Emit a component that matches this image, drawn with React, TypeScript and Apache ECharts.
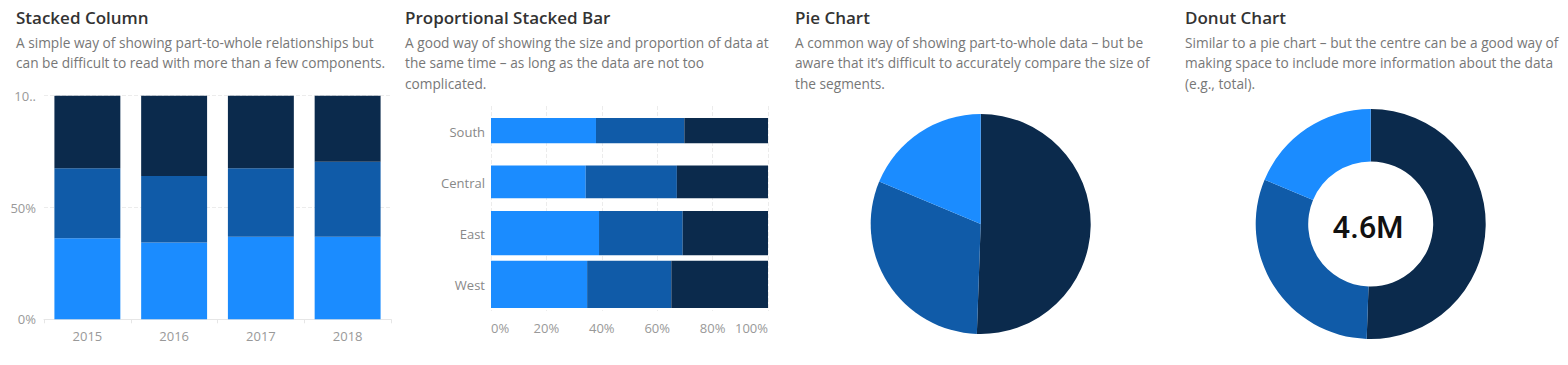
import React, { useEffect, useRef } from "react";
import * as echarts from "echarts";

// ---- Data ----
const years = ["2015", "2016", "2017", "2018"];
const segments = ["Consumer", "Corporate", "Home Office"];
// share (%) by year, bottom to top
const colLight = [36.2, 34.4, 36.9, 36.9];
const colMedium = [31.3, 29.7, 30.6, 33.6];
const colDark = [32.5, 35.9, 32.5, 29.5];
const colTickLabels: Record<number, string> = { 0: "0%", 50: "50%", 100: "10.." };

const regions = ["South", "Central", "East", "West"];
const regionSales = [391722, 501240, 678781, 725458];
const barLight = [37.9, 34.2, 39.0, 34.7];
const barMedium = [31.9, 32.9, 30.2, 30.4];
const barDark = [30.2, 32.9, 30.8, 34.9];

const pieValues = [1161401, 706146, 429653]; // dark, medium, light
const donutTotalLabel = "4.6M";

const titles = [
  {
    text: "Stacked Column",
    sub: "A simple way of showing part-to-whole relationships but\ncan be difficult to read with more than a few components.",
  },
  {
    text: "Proportional Stacked Bar",
    sub: "A good way of showing the size and proportion of data at\nthe same time \u2013 as long as the data are not too\ncomplicated.",
  },
  {
    text: "Pie Chart",
    sub: "A common way of showing part-to-whole data \u2013 but be\naware that it\u2019s difficult to accurately compare the size of\nthe segments.",
  },
  {
    text: "Donut Chart",
    sub: "Similar to a pie chart \u2013 but the centre can be a good way of\nmaking space to include more information about the data\n(e.g., total).",
  },
];

const LIGHT = "#1b8cff";
const MEDIUM = "#105ba8";
const DARK = "#0b2a4c";
const FONT = "'Open Sans', 'Noto Sans', sans-serif";

export default function App() {
  const ref = useRef<HTMLDivElement>(null);
  useEffect(() => {
    if (!ref.current) return;
    const chart = echarts.init(ref.current, undefined, { renderer: "svg" });
    const maxSales = Math.max(...regionSales);

    const makeBarSeries = (name: string, color: string, vals: number[], offsets: number[]) => ({
      type: "custom",
      name,
      xAxisIndex: 1,
      yAxisIndex: 1,
      data: vals.map((v, i) => [i, offsets[i], offsets[i] + v, regionSales[i]]),
      encode: { x: [1, 2], y: 0 },
      renderItem: (params: any, api: any) => {
        const cat = api.value(0);
        const start = api.coord([api.value(1), cat]);
        const end = api.coord([api.value(2), cat]);
        const band = api.size([0, 1])[1];
        const h = band * 0.92 * (api.value(3) / maxSales);
        return {
          type: "rect",
          shape: { x: start[0], y: start[1] - h / 2 - 1, width: end[0] - start[0], height: h },
          style: { fill: color },
        };
      },
    });
    const off1 = barLight.map(() => 0);
    const off2 = barLight.slice();
    const off3 = barLight.map((v, i) => v + barMedium[i]);

    const panelX = [16, 405, 795, 1185];

    chart.setOption({
      animation: false,
      textStyle: { fontFamily: FONT },
      title: titles.map((t, i) => ({
        text: t.text,
        subtext: t.sub,
        left: panelX[i],
        top: 9,
        padding: 0,
        itemGap: 6,
        textStyle: { fontFamily: FONT, fontSize: 17, fontWeight: 600, color: "#333333" },
        subtextStyle: { fontFamily: FONT, fontSize: 13.7, color: "#777777", lineHeight: 20.5 },
      })),
      grid: [
        { left: 44, top: 95.7, width: 347, height: 223.6 },
        { left: 491, top: 106, width: 277, height: 205 },
      ],
      xAxis: [
        {
          type: "category",
          gridIndex: 0,
          data: years,
          axisLine: { lineStyle: { color: "#e6e6e6" } },
          axisTick: { show: true, length: 4, lineStyle: { color: "#e6e6e6" } },
          axisLabel: { color: "#999999", fontSize: 13, margin: 10, fontFamily: FONT },
        },
        {
          type: "value",
          gridIndex: 1,
          min: 0,
          max: 100,
          interval: 20,
          axisLine: { show: false },
          axisTick: { show: false },
          axisLabel: {
            color: "#999999",
            fontSize: 13,
            margin: 10,
            fontFamily: FONT,
            formatter: "{value}%",
            alignMinLabel: "left",
            alignMaxLabel: "right",
          },
          splitLine: { show: true, lineStyle: { color: "#ececec", type: "dashed" } },
        },
      ],
      yAxis: [
        {
          type: "value",
          gridIndex: 0,
          min: 0,
          max: 100,
          interval: 50,
          axisLine: { show: false },
          axisTick: { show: false },
          axisLabel: {
            color: "#999999",
            fontSize: 13,
            margin: 8,
            fontFamily: FONT,
            formatter: (v: number) => colTickLabels[v] ?? "",
          },
          splitLine: { show: true, lineStyle: { color: "#ececec", type: "dashed" } },
        },
        {
          type: "category",
          gridIndex: 1,
          data: regions,
          inverse: true,
          axisLine: { show: false },
          axisTick: { show: false },
          axisLabel: { color: "#888888", fontSize: 13, margin: 6, fontFamily: FONT },
        },
      ],
      series: [
        { type: "bar", name: segments[2], stack: "c", xAxisIndex: 0, yAxisIndex: 0, data: colLight, itemStyle: { color: LIGHT }, barCategoryGap: "24%" },
        { type: "bar", name: segments[1], stack: "c", xAxisIndex: 0, yAxisIndex: 0, data: colMedium, itemStyle: { color: MEDIUM }, barCategoryGap: "24%" },
        { type: "bar", name: segments[0], stack: "c", xAxisIndex: 0, yAxisIndex: 0, data: colDark, itemStyle: { color: DARK }, barCategoryGap: "24%" },
        makeBarSeries(segments[2], LIGHT, barLight, off1),
        makeBarSeries(segments[1], MEDIUM, barMedium, off2),
        makeBarSeries(segments[0], DARK, barDark, off3),
        {
          type: "pie",
          center: [980.7, 224],
          radius: 110,
          startAngle: 90,
          clockwise: true,
          label: { show: false },
          labelLine: { show: false },
          data: [
            { name: segments[0], value: pieValues[0], itemStyle: { color: DARK } },
            { name: segments[1], value: pieValues[1], itemStyle: { color: MEDIUM } },
            { name: segments[2], value: pieValues[2], itemStyle: { color: LIGHT } },
          ],
        },
        {
          type: "pie",
          center: [1370.7, 224],
          radius: [62.5, 115],
          startAngle: 90,
          clockwise: true,
          label: { show: false },
          labelLine: { show: false },
          data: [
            { name: segments[0], value: pieValues[0], itemStyle: { color: DARK } },
            { name: segments[1], value: pieValues[1], itemStyle: { color: MEDIUM } },
            { name: segments[2], value: pieValues[2], itemStyle: { color: LIGHT } },
          ],
        },
      ],
      graphic: [
        {
          type: "text",
          x: 1368,
          y: 227,
          style: {
            text: donutTotalLabel,
            fontFamily: "Roboto, 'Liberation Sans', sans-serif",
            fontSize: 31,
            fontWeight: 500,
            fill: "#111111",
            align: "center",
            verticalAlign: "middle",
          },
        },
      ],
    });
    return () => chart.dispose();
  }, []);
  return (
    <div
      ref={ref}
      style={{ position: "absolute", left: 0, top: 0, width: 1568, height: 365, background: "#ffffff" }}
    />
  );
}
